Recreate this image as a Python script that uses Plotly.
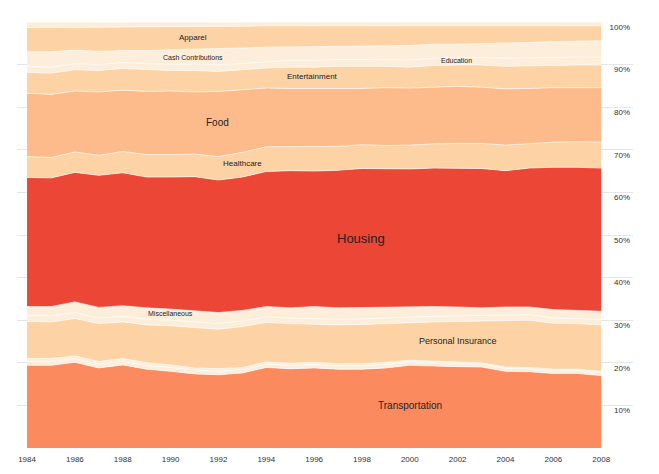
import plotly.graph_objects as go

years = list(range(1984, 2009))

# share of spending by category (percent), bottom of the stack first
transportation = [19.4, 19.4, 20.1, 18.8, 19.5, 18.5, 18.0, 17.4, 17.2, 17.6, 18.9, 18.6, 18.8,
                  18.5, 18.5, 18.8, 19.4, 19.2, 19.1, 19.0, 18.0, 17.9, 17.5, 17.5, 17.0]
tobacco = [0.9, 0.9, 0.9, 0.9, 0.9, 0.9, 0.9, 0.9, 0.8, 0.8, 0.8, 0.8, 0.8,
           0.8, 0.8, 0.8, 0.8, 0.8, 0.8, 0.7, 0.7, 0.7, 0.7, 0.7, 0.7]
reading = [0.7, 0.7, 0.6, 0.6, 0.6, 0.6, 0.6, 0.5, 0.6, 0.5, 0.5, 0.5, 0.5,
           0.5, 0.5, 0.5, 0.4, 0.4, 0.4, 0.3, 0.3, 0.3, 0.3, 0.3, 0.3]
personal_insurance = [8.7, 8.6, 8.8, 8.9, 8.6, 8.9, 9.2, 9.5, 9.3, 9.6, 9.3, 9.3, 9.0,
                      9.1, 9.2, 9.1, 8.9, 9.2, 9.4, 9.8, 11.0, 11.1, 10.8, 10.7, 10.9]
personal_care = [1.4, 1.4, 1.4, 1.3, 1.3, 1.3, 1.3, 1.3, 1.3, 1.3, 1.3, 1.3, 1.3,
                 1.3, 1.3, 1.3, 1.3, 1.3, 1.3, 1.3, 1.3, 1.3, 1.2, 1.2, 1.2]
miscellaneous = [2.1, 2.2, 2.5, 2.5, 2.5, 2.7, 2.6, 2.6, 2.6, 2.5, 2.4, 2.4, 2.8,
                 2.7, 2.7, 2.6, 2.4, 2.3, 2.1, 1.8, 1.8, 1.8, 2.0, 1.9, 2.0]
housing = [30.3, 30.2, 30.4, 31.0, 31.2, 30.7, 31.0, 31.5, 31.1, 31.3, 31.7, 32.2, 31.8,
           32.3, 32.6, 32.4, 32.3, 32.5, 32.5, 32.7, 32.0, 32.6, 33.4, 33.6, 33.6]
healthcare = [4.9, 4.8, 4.8, 4.7, 5.0, 5.3, 5.3, 5.3, 5.5, 5.8, 5.8, 5.6, 5.7,
              5.6, 5.6, 5.5, 5.6, 5.7, 5.9, 5.9, 6.0, 5.8, 5.9, 6.0, 6.1]
food = [14.9, 14.8, 14.3, 14.9, 14.4, 14.8, 14.9, 14.6, 15.3, 14.7, 13.8, 13.7, 13.7,
        13.7, 13.2, 13.6, 13.4, 13.3, 13.4, 13.2, 13.2, 12.9, 12.8, 12.7, 12.8]
entertainment = [4.9, 5.0, 5.0, 5.0, 5.1, 5.1, 4.8, 5.0, 4.7, 4.7, 4.7, 5.0, 5.0,
                 5.1, 5.2, 5.0, 4.9, 5.1, 5.0, 5.2, 5.3, 5.3, 5.3, 5.3, 5.3]
education = [1.4, 1.4, 1.4, 1.4, 1.4, 1.4, 1.5, 1.5, 1.5, 1.5, 1.5, 1.6, 1.6,
             1.6, 1.6, 1.6, 1.7, 1.7, 1.8, 1.8, 1.9, 1.9, 1.8, 1.9, 1.8]
cash_contributions = [3.4, 3.6, 3.2, 3.1, 2.8, 3.1, 3.4, 3.5, 3.9, 3.6, 3.4, 3.1, 3.2,
                      3.1, 3.1, 3.2, 3.4, 3.3, 3.1, 3.2, 3.6, 3.6, 3.7, 3.7, 3.9]
apparel = [5.7, 5.7, 5.4, 5.7, 5.5, 5.6, 5.4, 5.4, 5.2, 5.1, 5.0, 5.0, 5.0,
           4.9, 4.9, 4.8, 4.7, 4.4, 4.3, 4.2, 4.0, 3.9, 3.7, 3.6, 3.5]
alcohol = [1.3, 1.3, 1.2, 1.2, 1.2, 1.1, 1.1, 1.0, 1.0, 1.0, 0.9, 0.9, 0.8,
           0.8, 0.8, 0.8, 0.8, 0.8, 0.9, 0.9, 0.9, 0.9, 0.9, 0.9, 0.9]

RED = '#EB4636'
ORANGE = '#FC8A5F'
PEACH = '#FDBB8B'
TAN = '#FDD3A6'
CREAM = '#FDEEDC'

layers = [
    ('Transportation', transportation, ORANGE),
    ('Tobacco', tobacco, CREAM),
    ('Reading', reading, CREAM),
    ('Personal Insurance', personal_insurance, TAN),
    ('Personal Care', personal_care, CREAM),
    ('Miscellaneous', miscellaneous, CREAM),
    ('Housing', housing, RED),
    ('Healthcare', healthcare, TAN),
    ('Food', food, PEACH),
    ('Entertainment', entertainment, TAN),
    ('Education', education, CREAM),
    ('Cash Contributions', cash_contributions, CREAM),
    ('Apparel', apparel, TAN),
    ('Alcoholic Beverages', alcohol, CREAM),
]

# label text, year, percent, font size
labels = [
    ('Apparel', 1990.95, 96.3, 8),
    ('Cash Contributions', 1990.95, 91.6, 7),
    ('Education', 2001.95, 90.9, 7),
    ('Entertainment', 1995.95, 87.2, 8),
    ('Food', 1991.95, 76.4, 10),
    ('Healthcare', 1993.0, 66.7, 8),
    ('Housing', 1997.95, 49.1, 13),
    ('Miscellaneous', 1990.0, 31.5, 7),
    ('Personal Insurance', 2002.0, 25.2, 9),
    ('Transportation', 2000.0, 9.9, 10),
]

fig = go.Figure()
for name, vals, col in layers:
    fig.add_trace(go.Scatter(x=years, y=vals, name=name, mode='lines',
                             stackgroup='one', groupnorm='percent',
                             line=dict(color='rgba(255,255,255,0.75)', width=0.8),
                             fillcolor=col))

for txt, x, y, size in labels:
    fig.add_annotation(x=x, y=y, text=txt, showarrow=False,
                       font=dict(size=size, color='#222', family='Liberation Sans'))

# page body adds 8px, so the figure is 8px smaller than the window
fig.update_layout(
    width=651, height=466,
    margin=dict(l=9, r=26, t=14, b=26, autoexpand=False),
    paper_bgcolor='white', plot_bgcolor='white',
    showlegend=False,
    font=dict(family='Liberation Sans', color='#333'),
)
fig.update_xaxes(range=[1983.58, 2009.33], tickvals=list(range(1984, 2009, 2)),
                 showgrid=False, zeroline=False, showline=False,
                 ticks='outside', ticklen=3, tickcolor='rgba(0,0,0,0)',
                 tickfont=dict(size=8, color='#333'))
fig.update_yaxes(range=[0, 100], side='right', ticklabelposition='inside',
                 ticklabeloverflow='allow',
                 tickvals=list(range(0, 101, 10)),
                 ticktext=[''] + ['%d%%' % v for v in range(10, 101, 10)],
                 ticklabelshift=5, showgrid=True, gridcolor='#e6e6e6', gridwidth=1,
                 zeroline=False, showline=False,
                 tickfont=dict(size=8, color='#333'))

fig.write_html("out.html")
